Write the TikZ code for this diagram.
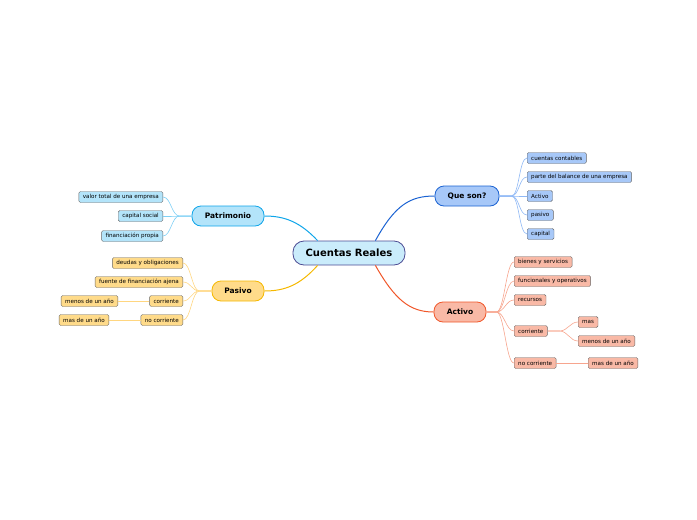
\documentclass[tikz,border=0pt]{standalone}
\usepackage{fontspec}
\setmainfont{DejaVu Sans}
\begin{document}
\begin{tikzpicture}[x=1pt,y=-1pt,
leaf/.style={draw=black!60,rounded corners=1.5,font=\fontsize{5.6}{6}\selectfont,inner xsep=4,minimum height=11,inner ysep=0},
br/.style={draw,rounded corners=9,line width=0.8,font=\fontsize{7.5}{8}\bfseries,minimum height=20,inner ysep=0},
lk/.style={line width=0.6}]
\useasboundingbox (0,0) rectangle (697,520);
\definecolor{qb}{HTML}{A7C8F8}\definecolor{qd}{HTML}{1A62D2}\definecolor{ql}{HTML}{8FB8F5}
\definecolor{ab}{HTML}{F9B9A6}\definecolor{ad}{HTML}{F0572A}\definecolor{al}{HTML}{F7A58E}
\definecolor{pb}{HTML}{B3E4FA}\definecolor{pd}{HTML}{0EA5E9}\definecolor{pl}{HTML}{7FD0F5}
\definecolor{sb}{HTML}{FFDB8A}\definecolor{sd}{HTML}{F5B800}\definecolor{sl}{HTML}{FFD680}
\node[draw=black!60!blue!70,fill=pb!70,rounded corners=11,line width=0.8,minimum width=112,minimum height=24,font=\fontsize{10}{11}\bfseries] (root) at (349,253) {Cuentas Reales};
\node[br,draw=qd,fill=qb,minimum width=64] (q) at (467,196) {Que son?};
\node[br,draw=ad,fill=ab,minimum width=52] (a) at (460,312) {Activo};
\node[br,draw=pd,fill=pb,minimum width=72] (p) at (228,216) {Patrimonio};
\node[br,draw=sd,fill=sb,minimum width=52] (s) at (238,291) {Pasivo};
\draw[qd,line width=1] (root.north east)++(-30,0) .. controls (395,205) and (410,196) .. (q.west);
\draw[ad,line width=1] (root.south east)++(-30,0) .. controls (395,300) and (410,312) .. (a.west);
\draw[pd,line width=1] (root.north west)++(25,0) .. controls (300,222) and (285,216) .. (p.east);
\draw[sd,line width=1] (root.south west)++(25,0) .. controls (300,285) and (285,291) .. (s.east);
% Que son leaves
\foreach \n/\y/\t in {q1/158/cuentas contables,q2/177/parte del balance de una empresa,q3/196/Activo,q4/215/pasivo,q5/234/capital}{
 \node[leaf,fill=qb,anchor=west] (\n) at (527,\y) {\t};
 \draw[lk,ql] (q.east) -- ++(12,0) .. controls +(8,0) and +(-8,0) .. (\n.west);}
% Activo leaves
\foreach \n/\y/\t in {a1/262/bienes y servicios,a2/281/funcionales y operativos,a3/300/recursos,a4/331/corriente,a5/363/no corriente}{
 \node[leaf,fill=ab,anchor=west] (\n) at (514,\y) {\t};
 \draw[lk,al] (a.east) -- ++(10,0) .. controls +(8,0) and +(-8,0) .. (\n.west);}
\node[leaf,fill=ab,anchor=west] (a41) at (578,322) {mas};
\node[leaf,fill=ab,anchor=west] (a42) at (578,341) {menos de un año};
\node[leaf,fill=ab,anchor=west] (a51) at (588,363) {mas de un año};
\foreach \c in {a41,a42}{\draw[lk,al] (a4.east) -- ++(12,0) .. controls +(8,0) and +(-8,0) .. (\c.west);}
\draw[lk,al] (a5.east) -- (a51.west);
% Patrimonio leaves
\foreach \n/\y/\t in {p1/197/valor total de una empresa,p2/216/capital social,p3/236/financiación propia}{
 \node[leaf,fill=pb,anchor=east] (\n) at (163,\y) {\t};
 \draw[lk,pl] (p.west) -- ++(-12,0) .. controls +(-8,0) and +(8,0) .. (\n.east);}
% Pasivo leaves
\foreach \n/\y/\t in {s1/263/deudas y obligaciones,s2/282/fuente de financiación ajena,s3/301/corriente,s4/320/no corriente}{
 \node[leaf,fill=sb,anchor=east] (\n) at (183,\y) {\t};
 \draw[lk,sl] (s.west) -- ++(-12,0) .. controls +(-8,0) and +(8,0) .. (\n.east);}
\node[leaf,fill=sb,anchor=east] (s31) at (118,301) {menos de un año};
\node[leaf,fill=sb,anchor=east] (s41) at (109,320) {mas de un año};
\draw[lk,sl] (s3.west) -- (s31.east);
\draw[lk,sl] (s4.west) -- (s41.east);
\end{tikzpicture}
\end{document}
